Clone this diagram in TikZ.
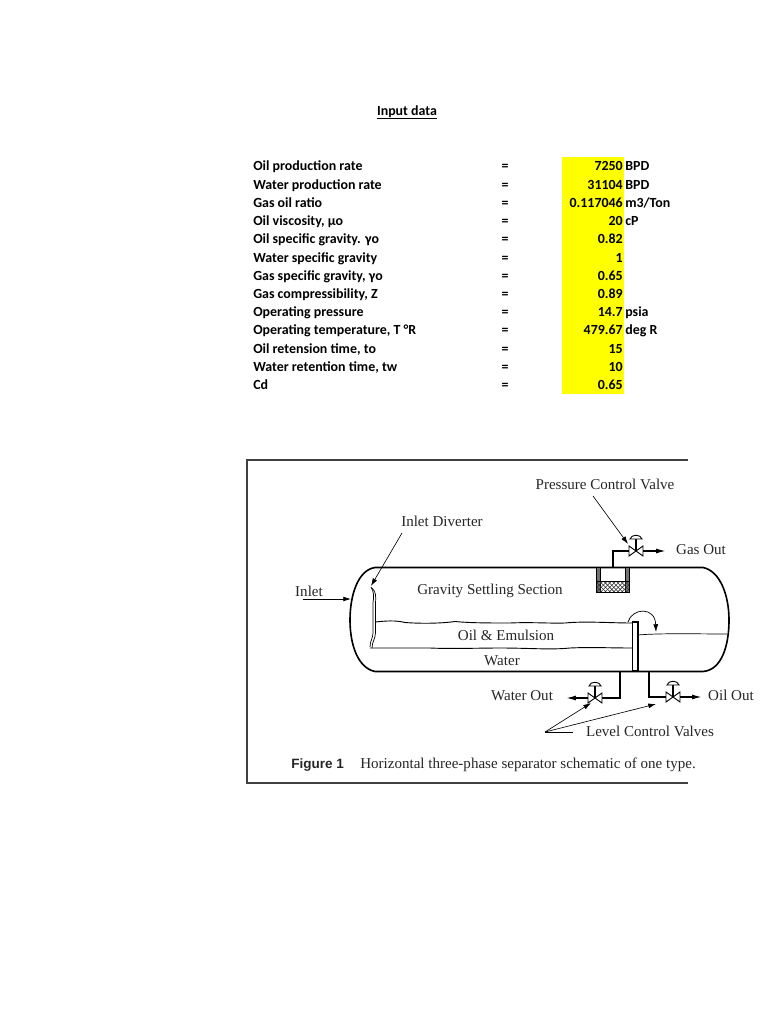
\documentclass[tikz,border=0pt]{standalone}
\usepackage{fontspec}
\setmainfont{Liberation Serif}
\newfontfamily\tablefont{Carlito}
\newfontfamily\captionfont{Liberation Sans}
\usetikzlibrary{arrows.meta, calc, patterns}
\definecolor{myyellow}{RGB}{255,255,0}
\tikzset{
    rowtext/.style={font=\tablefont\bfseries\fontsize{9.9}{11}\selectfont, inner sep=0pt},
    schemtext/.style={font=\fontsize{10.7}{12}\selectfont, inner sep=0pt, color=black!85},
    shell/.style={line width=1.15pt, black},
    pipe/.style={line width=1.05pt, black},
    thinpipe/.style={line width=0.5pt, black},
    pointer/.style={line width=0.45pt, black, -{Latex[length=5.5pt, width=3.5pt]}},
    flow/.style={line width=1pt, black, -{Latex[length=7pt, width=3.5pt]}},
}

\begin{document}
\begin{tikzpicture}[x=0.025cm, y=-0.025cm]
    \useasboundingbox (0, 0) rectangle (768, 1024);

    % Title of the table
    \node[rowtext, anchor=base] (title) at (407, 116) {\underline{\smash{Input data}}};

    % Yellow column behind the values
    \draw [fill=myyellow, draw=none] (562, 157) rectangle (624, 394);

    % Rows of the table
    \foreach \lbl/\val/\unit [count=\i from 0] in {
        Oil production rate/7250/BPD,
        Water production rate/31104/BPD,
        Gas oil ratio/0.117046/{m3/Ton},
        {Oil viscosity, μo}/20/cP,
        Oil specific gravity. γo/0.82/,
        Water specific gravity/1/,
        {Gas specific gravity, γo}/0.65/,
        {Gas compressibility, Z}/0.89/,
        Operating pressure/14.7/psia,
        {Operating temperature, T °R}/479.67/deg R,
        {Oil retension time, to}/15/,
        {Water retention time, tw}/10/,
        Cd/0.65/%
    } {
        \node[rowtext, anchor=base west] (lbl\i) at (253, {171 + 18.2*\i}) {\lbl};
        \node[rowtext, anchor=base] (eq\i) at (505, {171 + 18.2*\i}) {=};
        \node[rowtext, anchor=base east] (val\i) at (623, {171 + 18.2*\i}) {\val};
        \node[rowtext, anchor=base west] (unit\i) at (625, {171 + 18.2*\i}) {\unit};
    }

    % Frame of the figure, its right side is cut off
    \draw[line width=0.75pt, black!75] (688, 460) -- (247, 460) -- (247, 783) -- (688, 783);

    % Shell of the separator
    \draw[shell] (375, 567.5) -- (703, 567.5)
        .. controls (720, 571) and (729, 595) .. (729, 620)
        .. controls (729, 645) and (722, 670) .. (703, 671.5)
        -- (375, 671.5)
        .. controls (358, 668) and (350, 645) .. (350, 620)
        .. controls (350, 595) and (358, 570) .. (375, 567.5);

    % Inlet diverter
    \draw[thinpipe] (371, 587) .. controls (374, 592) and (374, 596) .. (373, 603) -- (373, 633)
        .. controls (373, 638) and (370, 641) .. (370, 647);
    \draw[thinpipe] (372, 588) .. controls (376, 592) and (376, 596) .. (375.5, 603) -- (375.5, 633)
        .. controls (375.5, 638) and (372, 642) .. (372, 648);

    % Liquid levels
    \draw[thinpipe, line width=0.65pt] (375, 622) .. controls (385, 621) and (395, 620) .. (405, 622.5)
        .. controls (425, 624) and (445, 623) .. (455, 621.5) .. controls (470, 623) and (490, 623) .. (510, 623)
        .. controls (530, 622) and (550, 623.5) .. (565, 623) .. controls (585, 621) and (610, 623) .. (632, 623);
    \draw[thinpipe, line width=0.65pt] (370, 648) -- (430, 648) .. controls (450, 649) and (480, 648) .. (500, 648)
        .. controls (530, 648) and (550, 650) .. (570, 648) .. controls (590, 647) and (610, 648) .. (632, 648);
    \draw[thinpipe] (638, 635) .. controls (660, 633) and (700, 634) .. (727, 634);

    % Weir plate
    \draw[line width=0.75pt, fill=white] (632.5, 622) rectangle (638, 671);
    \coordinate (weirTop) at (628, 622);
    \coordinate (weirDrop) at (656, 632);
    \draw[line width=0.5pt, black, -{Latex[length=5.5pt, width=3.5pt]}] (weirTop)
        .. controls (632, 608) and (655, 606) .. (weirDrop);

    % Mist extractor below the gas outlet
    \draw[line width=0.4pt, fill=black!55] (596, 567.5) rectangle (600, 592);
    \draw[line width=0.4pt, fill=black!55] (625, 567.5) rectangle (629, 592);
    \draw[line width=0.5pt, fill=black!40, pattern=crosshatch, pattern color=black!80] (596, 581) rectangle (629, 592);

    % Outlet pipes
    \coordinate (gasValve) at (636, 551);
    \coordinate (waterValve) at (595, 698);
    \coordinate (oilValve) at (673, 697);
    \draw[pipe, line width=0.8pt] (613, 567.5) |- (gasValve);
    \draw[pipe] (620, 671.5) |- (waterValve);
    \draw[pipe] (649, 671.5) |- (oilValve);

    % Control valves
    \foreach \valve in {gasValve, waterValve, oilValve} {
        \draw[line width=0.65pt, fill=white] ($(\valve) + (-7, -5)$) -- ($(\valve) + (7, 5)$)
            -- ($(\valve) + (7, -5)$) -- ($(\valve) + (-7, 5)$) -- cycle;
        \draw[line width=0.8pt] (\valve) -- ++(0, -12);
        \draw[line width=0.65pt, fill=white] ($(\valve) + (-6, -12)$)
            .. controls ($(\valve) + (-5, -17)$) and ($(\valve) + (5, -17)$) .. ($(\valve) + (6, -12)$) -- cycle;
    }

    % Outlet arrows
    \coordinate (gasEnd) at (666, 551);
    \coordinate (waterEnd) at (566, 698);
    \coordinate (oilEnd) at (702, 697);
    \draw[flow] ($(gasValve) + (7, 0)$) -- (gasEnd);
    \draw[flow] ($(waterValve) + (-7, 0)$) -- (waterEnd);
    \draw[flow] ($(oilValve) + (7, 0)$) -- (oilEnd);

    % Labels of the schematic
    \node[schemtext] (pcv) at (605, 484.5) {Pressure Control Valve};
    \node[schemtext] (gasOut) at (701, 549.5) {Gas Out};
    \node[schemtext] (diverter) at (442, 521.5) {Inlet Diverter};
    \node[schemtext] (inlet) at (309, 591) {Inlet};
    \node[schemtext] (gravity) at (490, 590.5) {Gravity Settling Section};
    \node[schemtext] (emulsion) at (506, 635.5) {Oil \& Emulsion};
    \node[schemtext] (water) at (502, 660.5) {Water};
    \node[schemtext] (waterOut) at (522, 695.5) {Water Out};
    \node[schemtext] (oilOut) at (731, 695) {Oil Out};
    \node[schemtext] (lcv) at (650, 731.5) {Level Control Valves};

    % Pointers to the parts
    \coordinate (inletStart) at (303, 599);
    \coordinate (inletEnd) at (351, 599);
    \coordinate (diverterStart) at (402, 533);
    \coordinate (diverterEnd) at (371, 586);
    \coordinate (pcvStart) at (593, 496);
    \coordinate (pcvEnd) at (628, 544);
    \coordinate (lcvStart) at (573, 732);
    \coordinate (lcvFork) at (545, 732);
    \coordinate (lcvWater) at (591, 703);
    \coordinate (lcvOil) at (656, 704);
    \draw[pointer, line width=0.6pt] (inletStart) -- (inletEnd);
    \draw[pointer] (diverterStart) -- (diverterEnd);
    \draw[pointer] (pcvStart) -- (pcvEnd);
    \draw[thinpipe] (lcvStart) -- (lcvFork);
    \draw[pointer] (lcvFork) -- (lcvWater);
    \draw[pointer] (lcvFork) -- (lcvOil);

    % Caption
    \node[font=\captionfont\bfseries\fontsize{9.6}{11}\selectfont, inner sep=0pt, anchor=base west, color=black!85] (figLabel) at (291, 768) {Figure 1};
    \node[schemtext, anchor=base west] (figCaption) at (360, 768) {Horizontal three-phase separator schematic of one type.};
\end{tikzpicture}
\end{document}
